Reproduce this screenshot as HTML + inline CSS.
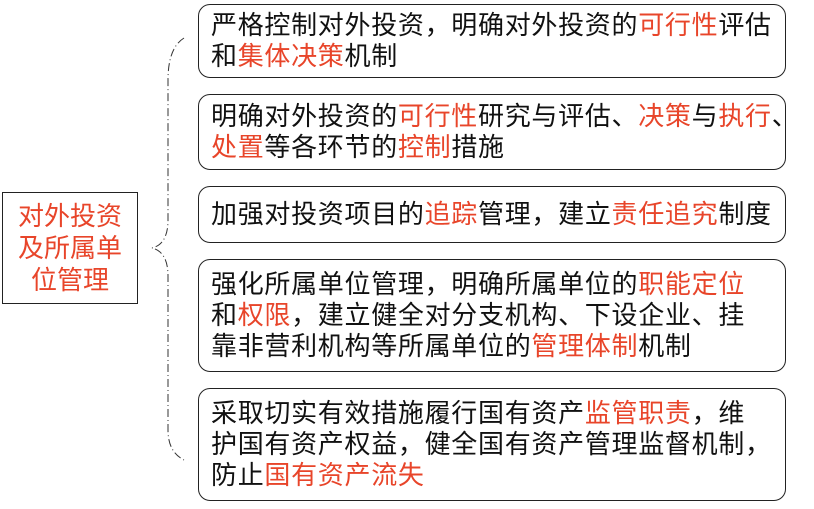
<!DOCTYPE html><html><head><meta charset="utf-8"><style>
body{margin:0;width:814px;height:509px;background:#fff;position:relative;font-family:"Liberation Sans","Noto Sans CJK SC",sans-serif;color:#111}
.b{position:absolute;left:198px;width:588px;border:1.5px solid #222;border-radius:12px;box-sizing:border-box;padding:0 0 0 12px;font-size:26px;line-height:31px;display:flex;align-items:center;letter-spacing:0.7px;white-space:nowrap}
.r{color:#e8452a}
.l{position:absolute;left:2px;top:192px;width:136px;height:112px;border:1.5px solid #222;box-sizing:border-box;color:#e8452a;font-size:26px;line-height:32px;text-align:center;display:flex;align-items:center;justify-content:center}
</style></head><body>
<div class="l"><div>对外投资<br>及所属单<br>位管理</div></div>
<svg style="position:absolute;left:0;top:0" width="814" height="509"><path d="M184 38 Q168 48 168 80 L168 220 Q168 244 152 248 Q168 252 168 276 L168 430 Q168 452 184 460" fill="none" stroke="#333" stroke-width="1" stroke-dasharray="8,3,1,3"/></svg>
<div class="b" style="top:4px;height:74px"><div>严格控制对外投资，明确对外投资的<span class="r">可行性</span>评估<br>和<span class="r">集体决策</span>机制</div></div>
<div class="b" style="top:94px;height:76px"><div>明确对外投资的<span class="r">可行性</span>研究与评估、<span class="r">决策</span>与<span class="r">执行</span>、<br><span class="r">处置</span>等各环节的<span class="r">控制</span>措施</div></div>
<div class="b" style="top:186px;height:57px"><div>加强对投资项目的<span class="r">追踪</span>管理，建立<span class="r">责任追究</span>制度</div></div>
<div class="b" style="top:259px;height:113px"><div>强化所属单位管理，明确所属单位的<span class="r">职能定位</span><br>和<span class="r">权限</span>，建立健全对分支机构、下设企业、挂<br>靠非营利机构等所属单位的<span class="r">管理体制</span>机制</div></div>
<div class="b" style="top:388px;height:113px"><div>采取切实有效措施履行国有资产<span class="r">监管职责</span>，维<br>护国有资产权益，健全国有资产管理监督机制，<br>防止<span class="r">国有资产流失</span></div></div>
</body></html>
